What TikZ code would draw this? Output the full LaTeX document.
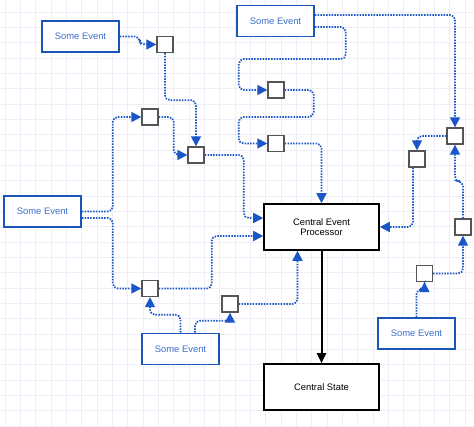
\documentclass[tikz,border=0pt]{standalone}
\usepackage{fontspec}
\setmainfont{Liberation Sans}
\usetikzlibrary{arrows.meta,calc}
\definecolor{evborder}{HTML}{1A56B8}
\definecolor{evtext}{HTML}{3D6FC9}
\definecolor{conncol}{HTML}{1A56C8}
\definecolor{gridcol}{HTML}{EEEEF8}
\definecolor{boxgray}{HTML}{555555}
\tikzset{
  evbox/.style={draw=evborder, line width=1.6pt, fill=white, minimum width=77pt, minimum height=31pt, inner sep=0pt, text=evtext, font=\fontsize{9.4pt}{11pt}\selectfont},
  gate/.style={draw=boxgray, line width=1.4pt, fill=white, minimum width=16pt, minimum height=16pt, inner sep=0pt},
  mainbox/.style={draw=black, line width=1.6pt, fill=white, minimum width=115pt, minimum height=46pt, inner sep=0pt, align=center, font=\fontsize{9.4pt}{10.5pt}\selectfont},
  conn/.style={draw=conncol, line width=1.7pt, dash pattern=on 1.5pt off 1.3pt, rounded corners=5pt, -{Triangle[length=10pt,width=10pt,fill=conncol]}},
  mainconn/.style={draw=black, line width=2pt, -{Triangle[length=10pt,width=9pt]}}
}
\begin{document}
\begin{tikzpicture}[x=1pt,y=-1pt]
\useasboundingbox (0,0) rectangle (474,427);
\fill[white] (0,0) rectangle (474,427);
\foreach \i in {0,...,30} {
  \draw[gridcol, line width=0.7pt] ({5+15.33*\i},0) -- ({5+15.33*\i},427);
}
\foreach \j in {0,...,27} {
  \draw[gridcol, line width=0.7pt] (0,{12+15.33*\j}) -- (474,{12+15.33*\j});
}
% event boxes
\node[evbox] (e1) at (80.5,36.5) {Some Event};
\node[evbox] (e2) at (275.5,21) {Some Event};
\node[evbox] (e3) at (42.5,211.5) {Some Event};
\node[evbox] (e4) at (180.5,349) {Some Event};
\node[evbox] (e5) at (416.5,333.5) {Some Event};
% gates
\node[gate] (A) at (165,44.5) {};
\node[gate] (B) at (150,117) {};
\node[gate] (C) at (196,155) {};
\node[gate] (D) at (276,90) {};
\node[gate] (E) at (276,143.5) {};
\node[gate] (F) at (455,136) {};
\node[gate] (G) at (417,159) {};
\node[gate] (H) at (150,288.5) {};
\node[gate] (I) at (230,304) {};
\node[gate] (J) at (463,227) {};
\node[gate] (K) at (424.5,273.5) {};
% main boxes
\node[mainbox] (cep) at (321.5,227) {Central Event\\Processor};
\node[mainbox] (cs) at (321.5,387) {Central State};
% connectors
\draw[conn] (e1.east) -- ++(20,0) |- (A.west);
\draw[conn] (A.south) -- ++(0,47) -| (C.north);
\draw[conn] (B.east) -- ++(15,0) |- (C.west);
\draw[conn] (e3.east) -- ++(31,0) |- (B.west);
\draw[conn] ([yshift=-6.5pt]e3.east) -- ++(31,0) |- (H.west);
\draw[conn] (C.east) -- ++(39,0) |- ([yshift=9pt]cep.west);
\draw[conn] (H.east) -- ++(53,0) |- ([yshift=-9pt]cep.west);
\draw[conn] (e4.north) -- ++(0,-18) -| (H.south);
\draw[conn] ([xshift=14.5pt]e4.north) -- ++(0,-12) -| (I.south);
\draw[conn] (I.east) -| ([xshift=-24pt]cep.south);
\draw[conn] ([yshift=6pt]e2.east) -| (F.north);
\draw[conn] ([yshift=-6pt]e2.east) -- ++(31,0) -- ++(0,32) -- ++(-107,0) |- (D.west);
\draw[conn] (D.east) -- ++(29,0) -- ++(0,27) -- ++(-75,0) |- (E.west);
\draw[conn] (E.east) -| (cep.north);
\draw[conn] (F.west) -| (G.north);
\draw[conn] ([xshift=-4pt]G.south) |- (cep.east);
\draw[conn] (J.north) -- ++(0,-37) -| (F.south);
\draw[conn] (K.east) -| (J.south);
\draw[conn] (e5.north) -- ++(0,-28) -| (K.south);
\draw[mainconn] (cep.south) -- (cs.north);
\end{tikzpicture}
\end{document}
